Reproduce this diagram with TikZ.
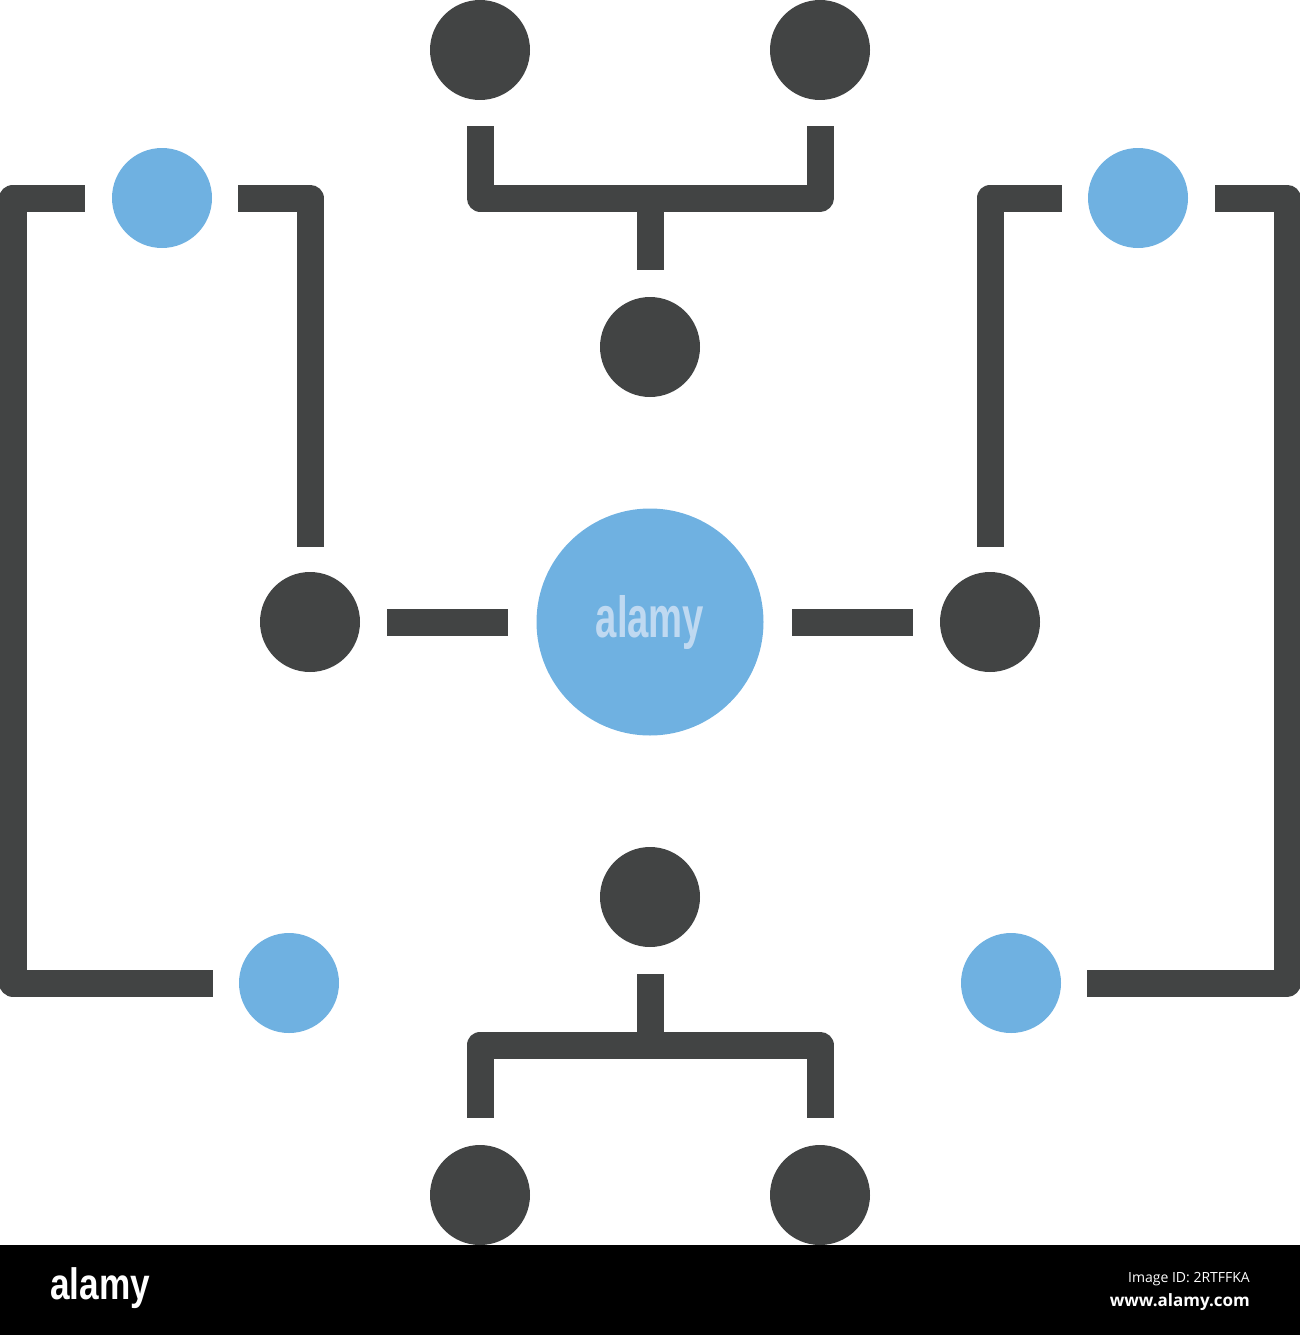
\documentclass[tikz,border=0pt]{standalone}
\usepackage{fontspec}
\setmainfont{Liberation Sans}
\newfontfamily\footfont{Open Sans}
\definecolor{iconDark}{HTML}{424444}
\definecolor{iconBlue}{HTML}{6FB1E1}
\definecolor{markBlue}{HTML}{BFD9F1}
\begin{document}
\begin{tikzpicture}[x=1pt,y=-1pt,
  dot/.style={circle,fill=iconDark,minimum size=100pt,inner sep=0pt},
  bdot/.style={circle,fill=iconBlue,minimum size=100pt,inner sep=0pt},
  wire/.style={iconDark,line width=27pt,line join=round}]
\useasboundingbox (0,0) rectangle (1300,1335);
\fill [black] (0,1245) rectangle (1300,1335);
\node [dot] (t1) at (480,50) {};
\node [dot] (t2) at (820,50) {};
\node [dot] (tc) at (650,347) {};
\node [bdot] (bl1) at (162,198) {};
\node [bdot] (br1) at (1138,198) {};
\node [dot] (L) at (310,622) {};
\node [dot] (R) at (990,622) {};
\node [circle,fill=iconBlue,minimum size=227pt,inner sep=0pt] (C) at (650,622) {};
\node [text=markBlue,font=\bfseries\fontsize{58}{58}\selectfont,xscale=0.66,anchor=base,inner sep=0pt] (cmark) at (650,637) {alamy};
\node [dot] (bc) at (650,897) {};
\node [bdot] (bl2) at (289,983) {};
\node [bdot] (br2) at (1011,983) {};
\node [dot] (b1) at (480,1195) {};
\node [dot] (b2) at (820,1195) {};
\coordinate (tj) at (650,198);
\coordinate (bj) at (650,1045);
\coordinate (lo) at (13,983);
\coordinate (ro) at (1287,983);
\draw [wire] ([yshift=-26pt]t1.south) |- (tj) -| ([yshift=-26pt]t2.south);
\draw [wire] (tj) -- ([yshift=27pt]tc.north);
\draw [wire] ([xshift=-27pt]bl1.west) -| (lo) -- ([xshift=-26pt]bl2.west);
\draw [wire] ([xshift=26pt]bl1.east) -| ([yshift=25pt]L.north);
\draw [wire] ([xshift=27pt]br1.east) -| (ro) -- ([xshift=26pt]br2.east);
\draw [wire] ([xshift=-26pt]br1.west) -| ([yshift=25pt]R.north);
\draw [wire] ([xshift=27pt]L.east) -- ([xshift=-28pt]C.west);
\draw [wire] ([xshift=-27pt]R.west) -- ([xshift=28pt]C.east);
\draw [wire] (bj) -- ([yshift=-27pt]bc.south);
\draw [wire] ([yshift=27pt]b1.north) |- (bj) -| ([yshift=27pt]b2.north);
\node [text=white,font=\bfseries\fontsize{44}{44}\selectfont,xscale=0.8,anchor=base west,inner sep=0pt] (logo) at (50,1299) {alamy};
\node [text=white,font=\footfont\fontsize{14}{14}\selectfont,anchor=base east,inner sep=0pt] (imgid) at (1250,1282) {Image ID: 2RTFFKA};
\node [text=white,font=\footfont\bfseries\fontsize{17}{17}\selectfont,anchor=base east,inner sep=0pt] (site) at (1250,1306) {www.alamy.com};
\end{tikzpicture}
\end{document}
